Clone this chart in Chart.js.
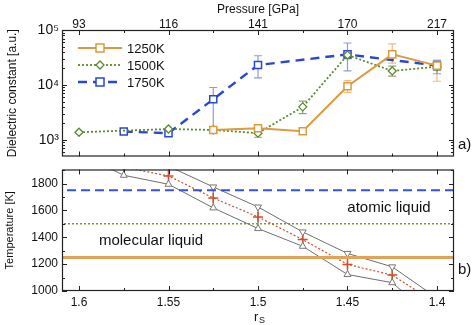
<!DOCTYPE html>
<html>
<head>
<meta charset="utf-8">
<script src="https://cdn.jsdelivr.net/npm/chart.js@4.4.1/dist/chart.umd.min.js"></script>
<style>
  html, body { margin: 0; padding: 0; background: #fff; }
  #wrap { position: relative; width: 474px; height: 325px; }
  #top { position: absolute; left: 0; top: 0; }
  #bot { position: absolute; left: 0; top: 163px; }
</style>
</head>
<body>
<div id="wrap">
  <canvas id="top" width="474" height="163"></canvas>
  <canvas id="bot" width="474" height="162"></canvas>
</div>
<script>
// ── Data ──
const rs = [1.6, 1.575, 1.55, 1.525, 1.5, 1.475, 1.45, 1.425, 1.4];
const rsTicks = [1.6, 1.55, 1.5, 1.45, 1.4];
const rsTickLabels = ['1.6', '1.55', '1.5', '1.45', '1.4'];
const pressureLabels = ['93', '116', '141', '170', '217'];

const eps1250 = [null, null, null, 1520, 1630, 1440, 9500, 36000, 22500];
const eps1250Lo = [null, null, null, 1400, 1480, null, 7300, 25000, 11700];
const eps1250Hi = [null, null, null, 1650, 1800, null, 12000, 56000, 28000];

const eps1500 = [1380, null, 1580, 1520, 1330, 4000, 35000, 18000, 21500];
const eps1500Lo = [null, null, null, null, 1120, 3000, 30000, 14500, 18500];
const eps1500Hi = [null, null, null, null, 1500, 5100, 40000, 22000, 25000];

const eps1750 = [null, 1420, 1330, 5500, 23000, null, 36000, null, 22500];
const eps1750Lo = [null, null, null, 1580, 13500, null, 18000, null, 16000];
const eps1750Hi = [null, null, null, 9000, 34000, null, 58000, null, 28000];

// melting line (lower panel); first/last values lie outside the plotted range
const meltRs = [1.6, 1.575, 1.55, 1.525, 1.5, 1.475, 1.45, 1.425, 1.4];
const meltT  = [null, 1922, 1857, 1693, 1552, 1383, 1198, 1119, 904];
const meltHi = [null, 1990, 1930, 1775, 1626, 1440, 1280, 1180, 948];
const meltLo = [2025, 1862, 1795, 1619, 1465, 1333, 1123, 1062, 775];

const tempLines = [1250, 1500, 1750];

const xMin = 1.3905, xMax = 1.6095;
const FONT = 'Liberation Sans, Arial, Helvetica, sans-serif';

const C1250 = '#dc9a3e', C1500 = '#5d8a2c', C1750 = '#2846d8';

const pts = (xs, ys) => xs.map((x, i) => ({ x: x, y: ys[i] }));

// ── Plugins ──
const errorBars = {
  id: 'errorBars',
  beforeDatasetsDraw(chart) {
    const { ctx, chartArea: a } = chart;
    const xs = chart.scales.x, ys = chart.scales.y;
    ctx.save();
    ctx.beginPath();
    ctx.rect(a.left, a.top, a.width, a.height);
    ctx.clip();
    chart.data.datasets.forEach(ds => {
      if (!ds.errLo) return;
      ctx.strokeStyle = ds.errColor;
      ctx.lineWidth = 1.2;
      ds.errLo.forEach((lo, j) => {
        const hi = ds.errHi[j];
        if (lo == null || hi == null) return;
        const x = xs.getPixelForValue(ds.errX[j]);
        const y1 = ys.getPixelForValue(lo), y2 = ys.getPixelForValue(hi);
        ctx.beginPath();
        ctx.moveTo(x, y1); ctx.lineTo(x, y2);
        if (ds.errCap) {
          ctx.moveTo(x - ds.errCap, y1); ctx.lineTo(x + ds.errCap, y1);
          ctx.moveTo(x - ds.errCap, y2); ctx.lineTo(x + ds.errCap, y2);
        }
        ctx.stroke();
      });
    });
    ctx.restore();
  }
};

const frame = {
  id: 'frame',
  afterDatasetsDraw(chart, args, opts) {
    const { ctx, chartArea: a } = chart;
    const xs = chart.scales.x, ys = chart.scales.y;
    ctx.save();
    ctx.strokeStyle = '#222';
    ctx.lineWidth = 1;
    const tick = (x1, y1, x2, y2) => { ctx.beginPath(); ctx.moveTo(x1, y1); ctx.lineTo(x2, y2); ctx.stroke(); };
    opts.xMajor.forEach(v => {
      const x = Math.round(xs.getPixelForValue(v)) + 0.5;
      tick(x, a.top, x, a.top + 5); tick(x, a.bottom, x, a.bottom - 5);
    });
    opts.xMinor.forEach(v => {
      const x = Math.round(xs.getPixelForValue(v)) + 0.5;
      tick(x, a.top, x, a.top + 3); tick(x, a.bottom, x, a.bottom - 3);
    });
    opts.yMajor.forEach(v => {
      const y = Math.round(ys.getPixelForValue(v)) + 0.5;
      tick(a.left, y, a.left + 5, y); tick(a.right, y, a.right - 5, y);
    });
    opts.yMinor.forEach(v => {
      const y = Math.round(ys.getPixelForValue(v)) + 0.5;
      if (y < a.top || y > a.bottom) return;
      tick(a.left, y, a.left + 3, y); tick(a.right, y, a.right - 3, y);
    });
    ctx.lineWidth = 1.2;
    ctx.strokeRect(a.left + 0.5, a.top + 0.5, a.width - 1, a.height - 1);
    ctx.restore();
  }
};

const texts = {
  id: 'texts',
  afterDraw(chart, args, opts) {
    const ctx = chart.ctx;
    ctx.save();
    ctx.fillStyle = '#111';
    ctx.textBaseline = 'middle';
    (opts.items || []).forEach(t => {
      ctx.font = t.size + 'px ' + FONT;
      ctx.textAlign = t.align || 'left';
      ctx.fillText(t.text, t.x, t.y);
    });
    ctx.restore();
  }
};

// legend drawn inside the upper plot
const insideLegend = {
  id: 'insideLegend',
  afterDraw(chart) {
    const ctx = chart.ctx;
    const a = chart.chartArea;
    ctx.save();
    chart.data.datasets.forEach((ds, i) => {
      const y = a.top + 18 + i * 17;
      const x0 = a.left + 16, x1 = a.left + 60, xm = (x0 + x1) / 2;
      ctx.strokeStyle = ds.borderColor;
      ctx.lineWidth = ds.borderWidth;
      ctx.setLineDash(ds.borderDash || []);
      ctx.beginPath(); ctx.moveTo(x0, y); ctx.lineTo(x1, y); ctx.stroke();
      ctx.setLineDash([]);
      ctx.fillStyle = '#fff';
      ctx.lineWidth = ds.pointBorderWidth;
      const r = ds.pointRadius;
      ctx.beginPath();
      if (ds.pointStyle === 'rectRot') {
        ctx.moveTo(xm, y - r); ctx.lineTo(xm + r, y); ctx.lineTo(xm, y + r); ctx.lineTo(xm - r, y); ctx.closePath();
      } else {
        ctx.rect(xm - r * 0.8, y - r * 0.8, r * 1.6, r * 1.6);
      }
      ctx.fill(); ctx.stroke();
      ctx.fillStyle = '#111';
      ctx.font = '13px ' + FONT;
      ctx.textBaseline = 'middle';
      ctx.fillText(ds.label, x1 + 5, y + 1);
    });
    ctx.restore();
  }
};

Chart.defaults.font.family = FONT;
Chart.defaults.color = '#111';
Chart.defaults.animation = false;

const fixTicks = (vals) => (s) => { s.ticks = vals.map(v => ({ value: v })); };
// fixed box sizes; no extra label padding pushed into the layout
const fixSize = (w, h) => (s) => {
  if (w != null) s.width = w;
  if (h != null) s.height = h;
  s.paddingTop = s.paddingBottom = s.paddingLeft = s.paddingRight = 0;
};
const noGrid = { display: false, drawTicks: false };

const logMinor = [];
[100, 1000, 10000].forEach(d => { for (let k = 2; k <= 9; k++) logMinor.push(k * d); });
const rsMinor = [1.575, 1.525, 1.475, 1.425];

// ── Upper panel: dielectric constant ──
new Chart(document.getElementById('top'), {
  type: 'line',
  data: {
    datasets: [
      {
        label: '1250K', data: pts(rs, eps1250), borderColor: C1250, borderWidth: 2,
        pointStyle: 'rect', pointRadius: 5, pointBorderWidth: 1.5, pointBackgroundColor: '#fff', pointBorderColor: C1250,
        errLo: eps1250Lo, errHi: eps1250Hi, errX: rs, errColor: '#e9bd84', errCap: 4
      },
      {
        label: '1500K', data: pts(rs, eps1500), borderColor: C1500, borderWidth: 1.8, borderDash: [2, 2],
        pointStyle: 'rectRot', pointRadius: 4, pointBorderWidth: 1.3, pointBackgroundColor: '#fff', pointBorderColor: C1500,
        errLo: eps1500Lo, errHi: eps1500Hi, errX: rs, errColor: '#8ea57a', errCap: 4
      },
      {
        label: '1750K', data: pts(rs, eps1750), borderColor: C1750, borderWidth: 2.4, borderDash: [9, 6],
        pointStyle: 'rect', pointRadius: 5, pointBorderWidth: 1.5, pointBackgroundColor: '#fff', pointBorderColor: C1750,
        errLo: eps1750Lo, errHi: eps1750Hi, errX: rs, errColor: '#8d9ad8', errCap: 4
      }
    ]
  },
  options: {
    responsive: false,
    spanGaps: true,
    layout: { padding: { left: 0, right: 20, top: 0, bottom: 0 } },
    plugins: {
      legend: { display: false },
      tooltip: { enabled: false },
      frame: { xMajor: rsTicks, xMinor: rsMinor, yMajor: [1e3, 1e4, 1e5], yMinor: logMinor },
      texts: { items: [{ text: 'a)', x: 458, y: 145, size: 15 }] }
    },
    scales: {
      x: {
        type: 'linear', position: 'bottom', reverse: true, min: xMin, max: xMax,
        grid: noGrid, border: { display: false },
        ticks: { display: false },
        afterFit: fixSize(null, 3)
      },
      x2: {
        type: 'linear', position: 'top', reverse: true, min: xMin, max: xMax,
        grid: noGrid, border: { display: false },
        afterBuildTicks: fixTicks(rsTicks),
        ticks: { autoSkip: false, maxRotation: 0, padding: -2, font: { size: 12 },
                 callback: (v, i) => pressureLabels[i] },
        title: { display: true, text: 'Pressure [GPa]', font: { size: 12 }, padding: { top: 2, bottom: 0 } },
        afterFit: fixSize(null, 30)
      },
      y: {
        type: 'logarithmic', min: 500, max: 1e5,
        grid: noGrid, border: { display: false },
        afterBuildTicks: fixTicks([1e3, 1e4, 1e5]),
        ticks: { font: { size: 14 }, padding: 3,
                 callback: v => ({ 1000: '10³', 10000: '10⁴', 100000: '10⁵' })[v] },
        title: { display: true, text: 'Dielectric constant [a.u.]', font: { size: 12 }, padding: { top: 5, bottom: 0 } },
        afterFit: fixSize(62, null)
      }
    }
  },
  plugins: [errorBars, frame, insideLegend, texts]
});

// ── Lower panel: temperature vs rs ──
new Chart(document.getElementById('bot'), {
  type: 'line',
  data: {
    datasets: [
      {
        label: '1750K', data: [{ x: xMin, y: tempLines[2] }, { x: xMax, y: tempLines[2] }],
        borderColor: '#3553e0', borderWidth: 2, borderDash: [9, 5], pointRadius: 0
      },
      {
        label: '1500K', data: [{ x: xMin, y: tempLines[1] }, { x: xMax, y: tempLines[1] }],
        borderColor: '#7a9a3a', borderWidth: 1.5, borderDash: [2, 2], pointRadius: 0
      },
      {
        label: '1250K', data: [{ x: xMin, y: tempLines[0] }, { x: xMax, y: tempLines[0] }],
        borderColor: '#e2a25a', borderWidth: 3, pointRadius: 0
      },
      {
        label: 'upper', data: pts(meltRs, meltHi), borderColor: '#6f6f6f', borderWidth: 1, clip: 0,
        pointStyle: 'triangle', rotation: 180, pointRadius: 4, pointBorderWidth: 1,
        pointBackgroundColor: '#fff', pointBorderColor: '#777'
      },
      {
        label: 'lower', data: pts(meltRs, meltLo), borderColor: '#6f6f6f', borderWidth: 1, clip: 0,
        pointStyle: 'triangle', pointRadius: 4, pointBorderWidth: 1,
        pointBackgroundColor: '#fff', pointBorderColor: '#777'
      },
      {
        label: 'melt', data: pts(meltRs, meltT), borderColor: '#d0502a', borderWidth: 1.2, borderDash: [2, 2], clip: 0,
        pointStyle: 'cross', pointRadius: 5, pointBorderWidth: 1.5, pointBorderColor: '#d0502a',
        errLo: meltLo, errHi: meltHi, errX: meltRs, errColor: '#8a7a70', errCap: 0
      }
    ]
  },
  options: {
    responsive: false,
    spanGaps: true,
    layout: { padding: { left: 0, right: 20, top: 6, bottom: 0 } },
    plugins: {
      legend: { display: false },
      tooltip: { enabled: false },
      frame: { xMajor: rsTicks, xMinor: rsMinor, yMajor: [1000, 1200, 1400, 1600, 1800],
               yMinor: [1100, 1300, 1500, 1700, 1900] },
      texts: { items: [
        { text: 'atomic liquid', x: 389, y: 45, size: 15, align: 'center' },
        { text: 'molecular liquid', x: 151, y: 78, size: 15, align: 'center' },
        { text: 'b)', x: 458, y: 107, size: 15 },
        { text: 'r', x: 254, y: 154, size: 13 },
        { text: 'S', x: 259, y: 158, size: 9 }
      ] }
    },
    scales: {
      x: {
        type: 'linear', position: 'bottom', reverse: true, min: xMin, max: xMax,
        grid: noGrid, border: { display: false },
        afterBuildTicks: fixTicks(rsTicks),
        ticks: { autoSkip: false, maxRotation: 0, padding: 4, font: { size: 12 },
                 callback: (v, i) => rsTickLabels[i] },
        afterFit: fixSize(null, 34)
      },
      y: {
        min: 1000, max: 1905,
        grid: noGrid, border: { display: false },
        afterBuildTicks: fixTicks([1000, 1200, 1400, 1600, 1800]),
        ticks: { font: { size: 12 }, padding: 4, callback: v => String(v) },
        title: { display: true, text: 'Temperature [K]', font: { size: 11 }, padding: { top: 3, bottom: 0 } },
        afterFit: fixSize(62, null)
      }
    }
  },
  plugins: [errorBars, frame, texts]
});
</script>
</body>
</html>
